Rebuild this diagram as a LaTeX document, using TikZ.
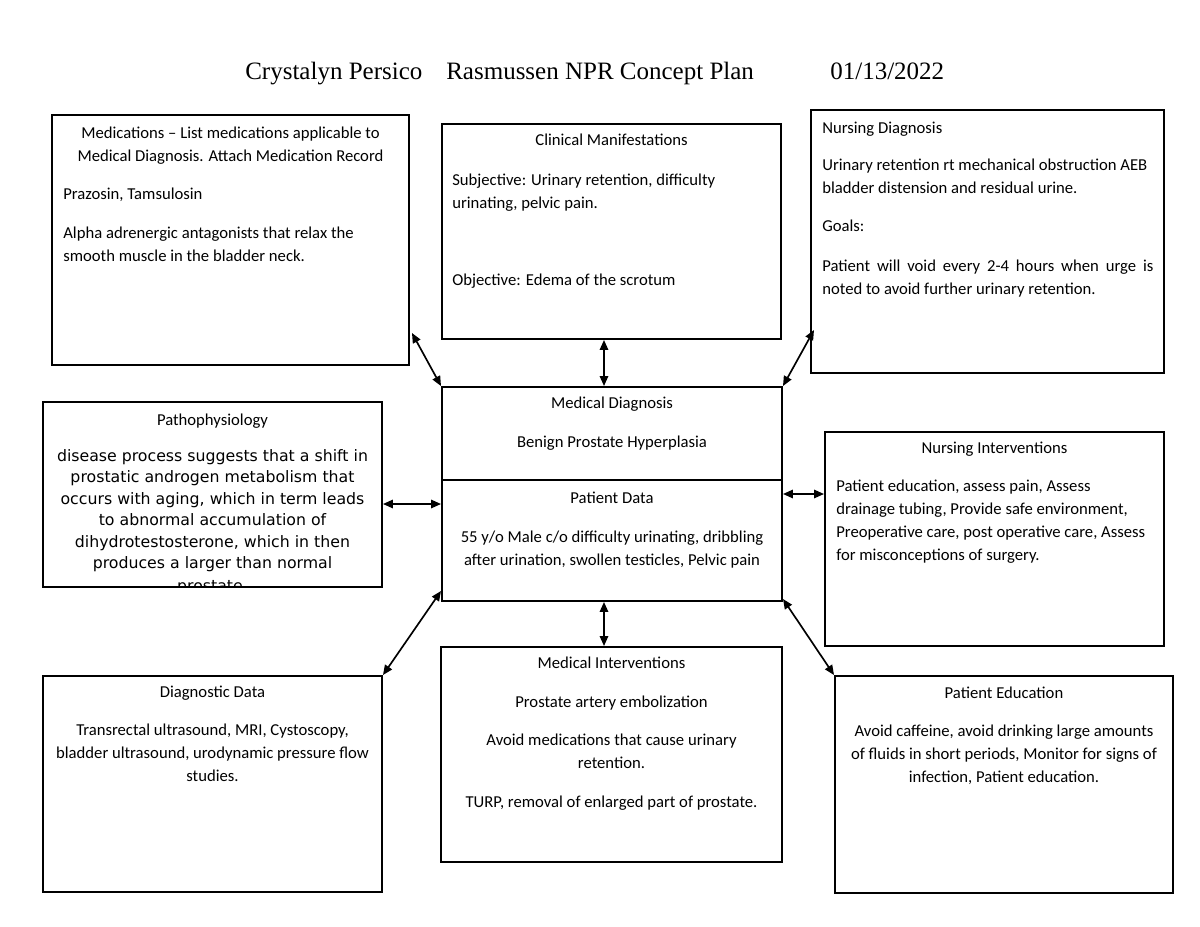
\documentclass[tikz,border=0pt]{standalone}
\usepackage{fontspec}
\setmainfont{Carlito}
\newfontfamily\titlefont{Liberation Serif}
\newfontfamily\pathofont{DejaVu Sans}
\usetikzlibrary{arrows.meta,fit,calc}
\newcommand{\bodyfont}{\fontsize{11}{15}\selectfont}
\begin{document}
\begin{tikzpicture}[x=0.66pt,y=-0.66pt,
 box/.style={draw, line width=1.3pt, fill=white, inner sep=0pt},
 lbl/.style={inner sep=0pt, anchor=base, font=\bodyfont},
 lblw/.style={inner sep=0pt, anchor=base west, font=\bodyfont},
 ptxt/.style={inner sep=0pt, anchor=base, font=\pathofont\fontsize{10.4}{14}\selectfont},
 biarrow/.style={{Triangle[length=6.5pt,width=5.5pt]}-{Triangle[length=6.5pt,width=5.5pt]}, line width=1.1pt},
 ttl/.style={inner sep=0pt, anchor=base west, font=\titlefont\fontsize{16.5}{20}\selectfont}]
\fill[white] (0,0) rectangle (1200,927);
\useasboundingbox (0,0) rectangle (1200,927);

% title
\node[ttl] (t1) at (245,79) {Crystalyn Persico};
\node[ttl] (t2) at (446,79) {Rasmussen NPR Concept Plan};
\node[ttl] (t3) at (830,79) {01/13/2022};

% boxes
\node[box, fit={(52,115)(409,365)}] (med) {};
\node[box, fit={(442,124)(781,339)}] (cm) {};
\node[box, fit={(811,110)(1164,373)}] (nd) {};
\node[box, fit={(43,402)(382,587)}] (patho) {};
\node[box, fit={(442,387)(782,480)}] (md) {};
\node[box, fit={(442,480)(782,601)}] (pd) {};
\node[box, fit={(825,432)(1164,646)}] (ni) {};
\node[box, fit={(43,676)(382,892)}] (dd) {};
\node[box, fit={(441,647)(782,862)}] (mi) {};
\node[box, fit={(835,676)(1173,893)}] (pe) {};

% Medications
\node[lbl] (med1) at (230.5,138) {Medications – List medications applicable to};
\node[lbl] (med2) at (230.5,161) {Medical Diagnosis. Attach Medication Record};
\node[lblw] (med3) at (63,199) {Prazosin, Tamsulosin};
\node[lblw] (med4) at (63,238) {Alpha adrenergic antagonists that relax the};
\node[lblw] (med5) at (63,261) {smooth muscle in the bladder neck.};

% Clinical Manifestations
\node[lbl] (cm1) at (611.5,145) {Clinical Manifestations};
\node[lblw] (cm2) at (452,185) {Subjective: Urinary retention, difficulty};
\node[lblw] (cm3) at (452,208) {urinating, pelvic pain.};
\node[lblw] (cm4) at (452,285) {Objective: Edema of the scrotum};

% Nursing Diagnosis
\node[lblw] (nd1) at (822,133) {Nursing Diagnosis};
\node[lblw] (nd2) at (822,170) {Urinary retention rt mechanical obstruction AEB};
\node[lblw] (nd3) at (822,193) {bladder distension and residual urine.};
\node[lblw] (nd4) at (822,231) {Goals:};
\node[lblw] (nd5) at (822,271) {\makebox[218.5pt][s]{Patient will void every 2-4 hours when urge is}};
\node[lblw] (nd6) at (822,294) {noted to avoid further urinary retention.};

% Pathophysiology
\node[lbl] (pa0) at (212.5,425) {Pathophysiology};
\begin{scope}
\clip (43,402) rectangle (382,586);
\node[ptxt] (pa1) at (212.5,461) {disease process suggests that a shift in};
\node[ptxt] (pa2) at (212.5,482.5) {prostatic androgen metabolism that};
\node[ptxt] (pa3) at (212.5,504) {occurs with aging, which in term leads};
\node[ptxt] (pa4) at (212.5,525.5) {to abnormal accumulation of};
\node[ptxt] (pa5) at (212.5,547) {dihydrotestosterone, which in then};
\node[ptxt] (pa6) at (212.5,568.5) {produces a larger than normal};
\node[ptxt] (pa7) at (212.5,591) {prostate.};
\end{scope}

% Medical Diagnosis / Patient Data
\node[lbl] (md1) at (612,408) {Medical Diagnosis};
\node[lbl] (md2) at (612,447) {Benign Prostate Hyperplasia};
\node[lbl] (pd1) at (612,503) {Patient Data};
\node[lbl] (pd2) at (612,542) {55 y/o Male c/o difficulty urinating, dribbling};
\node[lbl] (pd3) at (612,565) {after urination, swollen testicles, Pelvic pain};

% Nursing Interventions
\node[lbl] (ni1) at (994.5,453) {Nursing Interventions};
\node[lblw] (ni2) at (836,491) {Patient education, assess pain, Assess};
\node[lblw] (ni3) at (836,514) {drainage tubing, Provide safe environment,};
\node[lblw] (ni4) at (836,537) {Preoperative care, post operative care, Assess};
\node[lblw] (ni5) at (836,560) {for misconceptions of surgery.};

% Diagnostic Data
\node[lbl] (dd1) at (212.5,697) {Diagnostic Data};
\node[lbl] (dd2) at (212.5,735) {Transrectal ultrasound, MRI, Cystoscopy,};
\node[lbl] (dd3) at (212.5,758) {bladder ultrasound, urodynamic pressure flow};
\node[lbl] (dd4) at (212.5,781) {studies.};

% Medical Interventions
\node[lbl] (mi1) at (611.5,668) {Medical Interventions};
\node[lbl] (mi2) at (611.5,707) {Prostate artery embolization};
\node[lbl] (mi3) at (611.5,745) {Avoid medications that cause urinary};
\node[lbl] (mi4) at (611.5,768) {retention.};
\node[lbl] (mi5) at (611.5,807) {TURP, removal of enlarged part of prostate.};

% Patient Education
\node[lbl] (pe1) at (1004,698) {Patient Education};
\node[lbl] (pe2) at (1004,736) {Avoid caffeine, avoid drinking large amounts};
\node[lbl] (pe3) at (1004,759) {of fluids in short periods, Monitor for signs of};
\node[lbl] (pe4) at (1004,782) {infection, Patient education.};

% connectors
\draw[biarrow] ($(med.south east)+(2,-33)$) -- (md.north west);
\draw[biarrow] ($(cm.south)+(-7.5,0)$) -- ($(md.north)+(-8,0)$);
\draw[biarrow] ($(nd.south west)+(4,-44)$) -- (md.north east);
\draw[biarrow] ($(patho.east)+(0,9.5)$) -- ($(pd.west)+(0,-36.5)$);
\draw[biarrow] ($(pd.east)+(0,-46.5)$) -- ($(ni.west)+(0,-45)$);
\draw[biarrow] (dd.north east) -- ($(pd.south west)+(0,-11)$);
\draw[biarrow] ($(pd.south)+(-8,0)$) -- ($(mi.north)+(-7.5,0)$);
\draw[biarrow] ($(pd.south east)+(0,-3)$) -- (pe.north west);
\end{tikzpicture}
\end{document}
